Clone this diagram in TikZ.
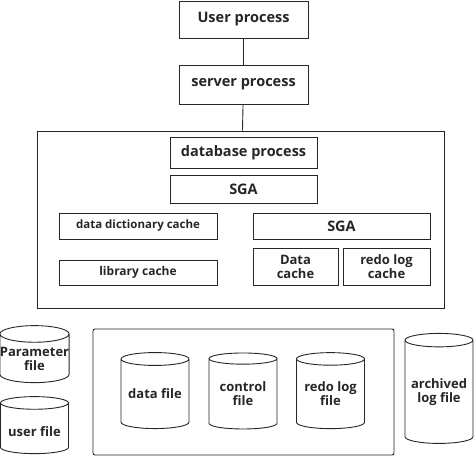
\documentclass[tikz,border=0pt]{standalone}
\usepackage{fontspec}
\setmainfont{Open Sans}
\usetikzlibrary{shapes.geometric}

\begin{document}
\begin{tikzpicture}[x=1pt, y=-1pt,
            every node/.style={align=center, inner sep=0pt, font=\bfseries\fontsize{13}{14}\selectfont},
            every path/.style={color=black!85, line width=0.9pt},
            box/.style={draw, rectangle},
            big/.style={font=\bfseries\fontsize{14.5}{16}\selectfont},
            drum/.style={draw, cylinder, shape border rotate=90, aspect=0.24, minimum width=68pt}]
        \useasboundingbox (0,0) rectangle (474,456);
        % processes
        \node[box, big, minimum width=129pt, minimum height=37pt] (user) at (243.5,19.5) {User process};
        \node[box, big, minimum width=129pt, minimum height=39pt] (server) at (243.5,84.5) {server process};
        \node[box, minimum width=407pt, minimum height=177pt] (db) at (240.5,219.5) {};
        \node[box, big, minimum width=147pt, minimum height=31pt] (dbproc) at (243.5,152.5) {database process};
        \node[box, big, minimum width=147pt, minimum height=28pt] (sgaA) at (243.5,189) {SGA};
        \node[box, font=\bfseries\fontsize{11.5}{12}\selectfont, minimum width=158pt, minimum height=26pt] (dict) at (138,226) {data dictionary cache};
        \node[box, font=\bfseries\fontsize{12}{13}\selectfont, minimum width=158pt, minimum height=25pt] (lib) at (138,272.5) {library cache};
        \node[box, big, minimum width=177pt, minimum height=26pt] (sgaB) at (341.5,226) {SGA};
        \node[box, minimum width=85pt, minimum height=37pt] (datacache) at (295.5,266.5) {Data\\cache};
        \node[box, minimum width=87pt, minimum height=37pt] (redocache) at (386.5,266.5) {redo log\\cache};
        % files
        \node[box, rounded corners=2pt, minimum width=301pt, minimum height=126pt] (files) at (243.5,392) {};
        \node[drum, minimum height=57pt] (param) at (34.5,358.5) {Parameter\\file};
        \node[drum, minimum height=57pt] (userfile) at (34.5,428.5) {\\[3pt]user file};
        \node[drum, minimum height=76pt] (datafile) at (155,394) {data file};
        \node[drum, minimum height=76pt] (control) at (243,394) {control\\file};
        \node[drum, minimum height=76pt] (redofile) at (330.5,394) {redo log\\file};
        \node[drum, minimum height=110pt] (archived) at (439,392) {archived\\log file};
        \draw (user) -- (server);
        \draw (server) -- (db);
\end{tikzpicture}
\end{document}
